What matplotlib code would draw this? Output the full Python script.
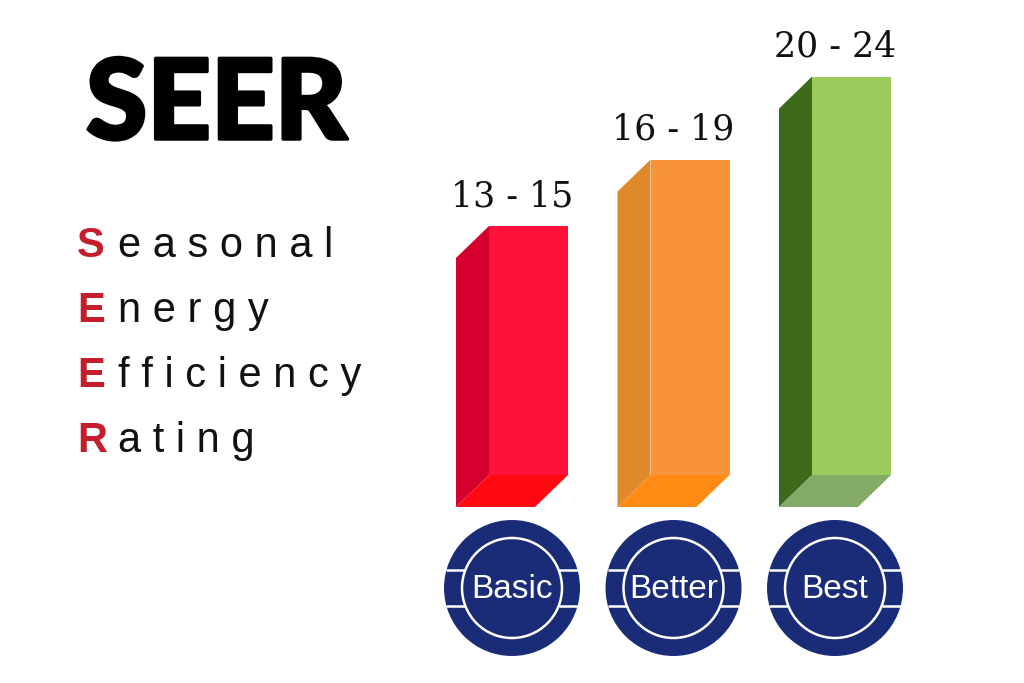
import numpy as np
import matplotlib.pyplot as plt
import matplotlib.patheffects as pe
from matplotlib.patches import Polygon, Circle

# data
tiers = ['Basic', 'Better', 'Best']
range_labels = ['13 - 15', '16 - 19', '20 - 24']
seer_max = [15, 19, 24]
words = ['Seasonal', 'Energy', 'Efficiency', 'Rating']

front_cols = ['#FE1239', '#F7943A', '#9CCB5C']
side_cols = ['#D6002F', '#E0892A', '#3E6B1A']
bottom_cols = ['#FF0A12', '#FF8A14', '#84AA68']
navy = '#1A2C78'
red_txt = '#C41E2E'

W, H = 1024, 683
fig = plt.figure(figsize=(W / 100, H / 100), dpi=100)
fig.patch.set_facecolor('white')

# pixel-space axes for the decorations
deco = fig.add_axes([0, 0, 1, 1])
deco.set_xlim(0, W)
deco.set_ylim(H, 0)
deco.axis('off')

# axes for the bars (categories on x, SEER on y)
bax = fig.add_axes([0, 0, 1, 1])
ppx, x0 = 161.5, 528.5
ppy, base = 16.6, 475
bax.set_xlim(-x0 / ppx, (W - x0) / ppx)
bax.set_ylim(-(H - base) / ppy, base / ppy)
bax.axis('off')
bax.patch.set_alpha(0)

x = np.arange(len(tiers))
bw = 79 / ppx
dx, dy = -33 / ppx, -32 / ppy

bax.bar(x, seer_max, width=bw, color=front_cols, zorder=3)
for xi, h, sc, bc in zip(x, seer_max, side_cols, bottom_cols):
    xl, xr = xi - bw / 2, xi + bw / 2
    side = [(xl, 0), (xl, h), (xl + dx, h + dy), (xl + dx, dy)]
    bottom = [(xl, 0), (xr, 0), (xr + dx, dy), (xl + dx, dy)]
    bax.add_patch(Polygon(side, closed=True, color=sc, lw=0, zorder=2))
    bax.add_patch(Polygon(bottom, closed=True, color=bc, lw=0, zorder=2))

for xi, h, lab in zip(x, seer_max, range_labels):
    bax.text(xi + dx / 2, h + 1.2, lab, ha='center', va='baseline',
             fontsize=25, family='DejaVu Serif', color='#111111')

# tier badges under the bars
inv = deco.transData.inverted()
cy = 588
R_out, R_in = 68, 50
for xi, name in zip(x, tiers):
    disp = bax.transData.transform((xi + dx / 2, 0))
    cx = inv.transform(disp)[0]
    deco.add_patch(Circle((cx, cy), R_out, color=navy, lw=0))
    deco.add_patch(Circle((cx, cy), R_in, fill=False, ec='white', lw=1.8))
    for s in (-18, 18):
        xo = np.sqrt(R_out ** 2 - s ** 2)
        xn = np.sqrt(R_in ** 2 - s ** 2)
        deco.plot([cx - xo, cx - xn], [cy + s, cy + s], color='white', lw=1.8,
                  solid_capstyle='butt')
        deco.plot([cx + xn, cx + xo], [cy + s, cy + s], color='white', lw=1.8,
                  solid_capstyle='butt')
    deco.text(cx, cy + 1, name, ha='center', va='center', color='white',
              fontsize=24, family='Liberation Sans')

# title and acronym
deco.text(86, 139, 'SEER', fontsize=80, fontweight='black', family='Lato',
          ha='left', va='baseline', color='black',
          path_effects=[pe.withStroke(linewidth=2.5, foreground='black')])
for i, w in enumerate(words):
    yb = 257 + 65 * i
    deco.text(77, yb, w[0], fontsize=30, fontweight='bold', color=red_txt,
              family='Liberation Sans', ha='left', va='baseline')
    deco.text(118, yb, ' '.join(w[1:]), fontsize=30, color='#111111',
              family='Liberation Sans', ha='left', va='baseline')

fig.savefig('out.png', dpi=100, facecolor='white')
